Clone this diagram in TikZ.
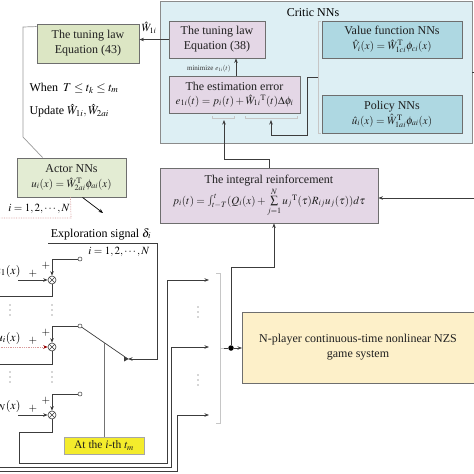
\documentclass[tikz,border=0pt]{standalone}
\usepackage{mathptmx}
\usepackage{fontspec}
\setmainfont{Liberation Serif}
\usetikzlibrary{arrows.meta,calc}
\definecolor{criticbg}{HTML}{DDEFF4}
\definecolor{lav}{HTML}{E4D7E6}
\definecolor{valbg}{HTML}{AED8E2}
\definecolor{grnA}{HTML}{DCE6C4}
\definecolor{grnB}{HTML}{E3ECD3}
\definecolor{sysbg}{HTML}{FDF0C9}
\definecolor{ylw}{HTML}{F4EC2C}
\definecolor{bord}{HTML}{6E6E6E}
\definecolor{lnc}{HTML}{3C3C3C}
\definecolor{pnk}{HTML}{D89A9A}
\tikzset{
  box/.style={draw=bord, line width=0.9pt, align=center, inner sep=1pt, text=black!88},
  tf/.style={font=\fontsize{12}{15}\selectfont},
  ln/.style={draw=lnc, line width=0.7pt},
  arr/.style={ln, -{Stealth[length=4.5pt,width=3.5pt]}},
  gln/.style={draw=gray!80, line width=0.7pt},
  brk/.style={draw=gray!45, line width=0.5pt},
  jn/.style={circle, draw=lnc, line width=0.6pt, minimum size=8pt, inner sep=0pt,
    path picture={\draw[lnc,line width=0.5pt] (path picture bounding box.north west)--(path picture bounding box.south east) (path picture bounding box.north east)--(path picture bounding box.south west);}},
  oc/.style={circle, draw=lnc, fill=white, line width=0.5pt, minimum size=4pt, inner sep=0pt},
  sm/.style={font=\fontsize{11}{13}\selectfont},
}
\begin{document}
\begin{tikzpicture}[x=1pt,y=-1pt]
\useasboundingbox (0,0) rectangle (474,474);

% ---------- Critic block ----------
\node[box, draw=bord!80, fill=criticbg, minimum width=312pt, minimum height=142pt] (critic) at (316,72) {};
\node[tf] (crittitle) at (313,13) {Critic NNs};
\node[box, tf, fill=lav, minimum width=96pt, minimum height=37pt] (tun38) at (217,39.5) {The tuning law\\Equation (38)};
\node[box, tf, fill=lav, minimum width=131pt, minimum height=37pt] (est) at (234.5,94.5)
  {The estimation error\\[-1pt] {\fontsize{11}{13}\selectfont $e_{1i}(t)=p_i(t)+\hat{W}_{1i}{}^{\mathrm{T}}(t)\Delta\phi_i$}};
\node[box, tf, fill=valbg, minimum width=140pt, minimum height=37pt] (val) at (392,39.5)
  {Value function NNs\\[0pt] {\fontsize{11}{13}\selectfont $\hat{V}_i(x)=\hat{W}^{\mathrm{T}}_{1ci}\phi_{ci}(x)$}};
\node[box, tf, fill=valbg, minimum width=140pt, minimum height=38pt] (pol) at (392,114)
  {Policy NNs\\[0pt] {\fontsize{11}{13}\selectfont $\hat{u}_i(x)=\hat{W}^{\mathrm{T}}_{1ai}\phi_{ai}(x)$}};

% ---------- Integral reinforcement ----------
\node[box, tf, fill=lav, minimum width=218pt, minimum height=55pt] (integ) at (269,195.5)
  {The integral reinforcement\\[1pt] {\fontsize{11}{13}\selectfont $p_i(t)=\int_{t-T}^{t}(Q_i(x)+\sum\limits_{j=1}^{N}u_j{}^{\mathrm{T}}(\tau)R_{ij}u_j(\tau))d\tau$}};

% ---------- Left side ----------
\node[box, tf, fill=grnA, minimum width=102pt, minimum height=39pt] (tun43) at (88,43.5) {The tuning law\\Equation (43)};
\node[box, tf, fill=grnB, minimum width=109pt, minimum height=39pt] (actor) at (71.5,177.5)
  {Actor NNs\\[0pt] {\fontsize{11}{13}\selectfont $u_i(x)=\hat{W}^{\mathrm{T}}_{2ai}\phi_{ai}(x)$}};
\node[tf, anchor=west] (when) at (26,88) {When \,$T\le t_k\le t_m$};
\node[tf, anchor=west] (upd) at (26,111) {Update $\hat{W}_{1i},\hat{W}_{2ai}$};

% ---------- System ----------
\node[box, fill=sysbg, minimum width=243pt, minimum height=71pt, anchor=west] (sys) at (242,347.5) {};
\node[tf, align=center, text=black!88] (systext) at (358,347) {N-player continuous-time nonlinear NZS\\game system};

\node[box, fill=ylw, draw=gray!70, minimum width=80pt, minimum height=17pt, font=\fontsize{11.5}{13}\selectfont] (atbox) at (104,445.5) {At the \textit{i}-th $t_m$};

% ---------- connectors in critic ----------
\draw[arr] (tun38.west) -- (tun38.west -| tun43.east);
\node[sm] (w1i) at (149,28) {$\hat{W}_{1i}$};
\draw[arr] ([xshift=1.5pt]est.north) -- ([xshift=19pt]tun38.south);
\node[font=\fontsize{7}{8}\selectfont, anchor=east, text=black!80] (minlab) at (234,68.5) {minimize $e_{1i}(t)$};

\coordinate (ub1) at (224,120);
\coordinate (ub2) at (271,120);
\draw[brk] (212,116) -- (212,118) -- (234,118) -- (234,116);
\draw[brk] (245,116) -- (245,118) -- (297,118) -- (297,116);
\draw[arr] (integ.north) -- ++(0,-8) -| (ub1);

\draw[brk] (321,21) -- (318,21) -- (318,133) -- (321,133);
\coordinate (vb) at (318,77);
\draw[arr] (vb) -- (307,77) -- (307,135) -| (ub2);

\draw[ln] (critic.east) -- ++(6,0);
\coordinate (rin) at (478,198);
\draw[arr] (rin) -- (rin -| integ.east);

% ---------- left connectors ----------
\draw[gln] ([yshift=-3pt]tun43.north west) -- (23,27) -- (23,137) -- ([xshift=26pt]actor.north west);
\coordinate (aout) at (103,213);
\draw[arr, draw=black] ([xshift=66pt]actor.south west) -- (aout);
\draw[draw=pnk, densely dotted, line width=0.7pt] ([xshift=54pt]actor.south west) -- (71,218) -- (-3,218);
\node[sm] (ilab) at (39,209) {$i=1,2,\cdots,N$};

% ---------- exploration ----------
\node[tf] (exptxt) at (101,234) {Exploration signal $\delta_i$};
\node[sm, anchor=east] (expi) at (153,252) {$i=1,2,\cdots,N$};
\coordinate (expL) at (48,243);
\coordinate (expR) at (157,243);
\draw[ln] (expL) -- (expR);

% ---------- junctions ----------
\node[jn] (j1) at (52,280) {};
\node[jn] (j2) at (52,347) {};
\node[jn] (j3) at (52,415) {};
\node[oc] (o1) at (80,259) {};
\node[oc] (o2) at (80,326) {};
\node[oc] (o3) at (80,394) {};
\draw[arr] (o1) -| (j1);
\draw[arr] (o2) -| (j2);
\draw[arr] (o3) -| (j3);
\coordinate (in1) at (18,280);
\coordinate (in2) at (-3,347);
\coordinate (in3) at (18,415);
\draw[arr] (in1) -- (j1);
\draw[draw=pnk, densely dotted, line width=0.8pt, -{Stealth[length=4.5pt,width=3.5pt,color=red!60!black]}] (in2) -- (j2);
\draw[arr] (in3) -- (j3);
\foreach \y/\n in {280/1,347/2,415/3}{
  \node[sm] (pa\n) at (33,\y-6) {$+$};
  \node[sm] (pb\n) at (46,\y-14) {$+$};
}
\node[tf, anchor=east] (u1) at (24,271) {$u_1(x)$};
\node[tf, anchor=east] (ui) at (24,338) {$u_i(x)$};
\node[tf, anchor=east] (uN) at (24,406) {$u_N(x)$};

% dots
\foreach \x/\y in {10/310,52/310,10/377,52/377,198/312,198/380}{
  \fill[black!70] (\x,\y-5) circle (0.7pt) (\x,\y) circle (0.7pt) (\x,\y+5) circle (0.7pt);
}

% switch
\coordinate (sw) at (128,359);
\draw[ln] (o2) -- (sw);
\fill[lnc] (124,356.5) -- (128.5,359) -- (124,361.5) -- cycle;
\draw[arr] (expR) -- (157,359) -- (sw);
\coordinate (swm) at (104,342.5);
\draw[gln, draw=gray!90!black] (swm) -- (atbox.north);

% outputs
\draw[ln] (j1) -- (52,296) -- (-3,296);
\draw[ln] (j2) -- (52,364) -- (-3,364);
\coordinate (b1) at (209,280);
\coordinate (b2) at (209,347);
\coordinate (b3) at (209,415);
\draw[arr] (j3) -- (52,432) -- (19,432) -- (19,463) -- (167,463) -- (167,280) -- (b1);
\draw[arr] (-3,467) -- (171,467) -- (171,347) -- (b2);
\draw[arr] (-3,471) -- (177,471) -- (177,415) -- (b3);

% right bracket and dot
\draw[brk] (216,273) -- (220,273) -- (220,423) -- (216,423);
\draw[brk] (220,348) -- (224,348);
\node[circle, fill=black, inner sep=0pt, minimum size=5.5pt] (dot) at (231,348) {};
\draw[ln] (224,348) -- (dot);
\draw[arr] (dot) -- (dot -| sys.west);
\draw[arr] (dot) -- (231,267) -| ([xshift=5pt]integ.south);
\end{tikzpicture}
\end{document}
